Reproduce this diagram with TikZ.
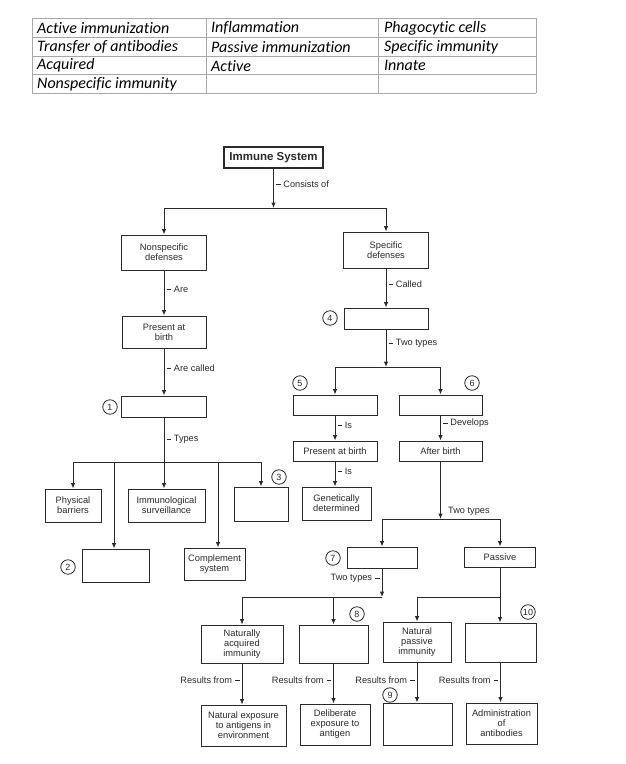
\documentclass[tikz,border=0pt]{standalone}
\usepackage{fontspec}
\setmainfont{Liberation Sans}
\newfontfamily\tabfont[Ligatures=NoCommon]{Carlito}
\usetikzlibrary{arrows.meta,calc}
\definecolor{ink}{HTML}{2A2A2A}
\definecolor{grid}{HTML}{A8A8A8}
\newcommand\tickR[4]{\draw[tickln] (#1+2.5,#2) -- (#1+7,#2) node[lbl,anchor=west,xshift=2.5pt] (#3) {#4};}
\newcommand\tickL[4]{\draw[tickln] (#1-2.5,#2) -- (#1-7,#2) node[lbl,anchor=east,xshift=-2.5pt] (#3) {#4};}
\begin{document}
\begin{tikzpicture}[x=1pt,y=-1pt,
 box/.style={draw=ink, line width=0.9pt, fill=white, inner sep=1pt, align=center, text=ink, font=\fontsize{9.3}{10}\selectfont},
 arr/.style={draw=ink, line width=1pt, -{Latex[length=5.5pt,width=4.5pt]}},
 ln/.style={draw=ink, line width=1pt},
 tickln/.style={draw=ink, line width=0.8pt},
 num/.style={circle, draw=ink, line width=0.8pt, minimum size=14.5pt, inner sep=0pt, font=\fontsize{9}{9}\selectfont, text=ink},
 lbl/.style={font=\fontsize{9.2}{9}\selectfont, text=ink, inner sep=0pt},
 cell/.style={font=\tabfont\itshape\fontsize{16}{17}\selectfont, anchor=west, inner sep=0pt, text=black}
]
\useasboundingbox (0,0) rectangle (625,764);
\fill[white] (0,0) rectangle (625,764);

% ---------- table ----------
\foreach \yy in {18,37,56,74.5,93} \draw[grid, line width=0.8pt] (32,\yy) -- (536,\yy);
\foreach \xx in {32,206,378,536} \draw[grid, line width=0.8pt] (\xx,18) -- (\xx,93);
\node[cell] (t11) at (37,28) {Active immunization};
\node[cell] (t12) at (211,28) {Inflammation};
\node[cell] (t13) at (384,28) {Phagocytic cells};
\node[cell] (t21) at (37,47) {Transfer of antibodies};
\node[cell] (t22) at (211,47) {Passive immunization};
\node[cell] (t23) at (384,47) {Specific immunity};
\node[cell] (t31) at (37,65.7) {Acquired};
\node[cell] (t32) at (211,65.7) {Active};
\node[cell] (t33) at (384,65.7) {Innate};
\node[cell] (t41) at (37,84.3) {Nonspecific immunity};

% ---------- boxes ----------
\node[box, line width=1.7pt, minimum width=99pt, minimum height=21pt, font=\bfseries\fontsize{11.5}{12}\selectfont] (is) at (273.5,157.5) {Immune System};
\node[box, minimum width=85pt, minimum height=35pt] (nd) at (164,252.5) {Nonspecific\\defenses};
\node[box, minimum width=85pt, minimum height=36pt] (sd) at (386,250) {Specific\\defenses};
\node[box, minimum width=84pt, minimum height=32pt] (pab) at (164,332) {Present at\\birth};
\node[box, minimum width=85pt, minimum height=21pt] (b1) at (164,406.5) {};
\node[box, minimum width=56pt, minimum height=33pt] (pb) at (73,505.5) {Physical\\barriers};
\node[box, minimum width=77pt, minimum height=33pt] (ims) at (166.5,505.5) {Immunological\\surveillance};
\node[box, minimum width=54pt, minimum height=34pt] (b3) at (261,504) {};
\node[box, minimum width=67pt, minimum height=33pt] (b2) at (115.5,565.5) {};
\node[box, minimum width=61pt, minimum height=32pt] (cs) at (214.5,564) {Complement\\system};

\node[box, minimum width=84pt, minimum height=21pt] (b4) at (386,318.5) {};
\node[box, minimum width=84pt, minimum height=20pt] (b5) at (335,405) {};
\node[box, minimum width=83pt, minimum height=20pt] (b6) at (440.5,405) {};
\node[box, minimum width=84pt, minimum height=20pt] (pab2) at (335,451) {Present at birth};
\node[box, minimum width=83pt, minimum height=20pt] (ab) at (440.5,451) {After birth};
\node[box, minimum width=69pt, minimum height=33pt] (gd) at (336.5,503.5) {Genetically\\determined};
\node[box, minimum width=70pt, minimum height=21pt] (b7) at (382,557.5) {};
\node[box, minimum width=71pt, minimum height=20pt] (pas) at (500,557) {Passive};
\node[box, minimum width=82pt, minimum height=38pt] (naq) at (242,644) {Naturally\\acquired\\immunity};
\node[box, minimum width=69pt, minimum height=38pt] (b8) at (333.5,644) {};
\node[box, minimum width=68pt, minimum height=40pt] (npi) at (417,642) {Natural\\passive\\immunity};
\node[box, minimum width=71pt, minimum height=39pt] (b10) at (500.5,642.5) {};
\node[box, minimum width=85pt, minimum height=41pt] (ne) at (243.5,725.5) {Natural exposure\\to antigens in\\environment};
\node[box, minimum width=70pt, minimum height=41pt] (de) at (335,724.5) {Deliberate\\exposure to\\antigen};
\node[box, minimum width=69pt, minimum height=42pt] (b9) at (417.5,724) {};
\node[box, minimum width=71pt, minimum height=41pt] (adm) at (501.5,723.5) {Administration\\of\\antibodies};

% ---------- numbers ----------
\node[num] (c1) at (110,407) {1};
\node[num] (c2) at (68,567) {2};
\node[num] (c3) at (279,477) {3};
\node[num] (c4) at (330,318) {4};
\node[num] (c5) at (300,383) {5};
\node[num] (c6) at (472,383) {6};
\node[num] (c7) at (333,558) {7};
\node[num] (c8) at (357,614) {8};
\node[num] (c9) at (390,695) {9};
\node[num] (c10) at (528,612) {10};

% ---------- connectors ----------
\coordinate (j0) at (273.5,208);
\draw[arr] (is.south) -- (j0);
\draw[arr] (j0) -| (nd.north);
\draw[arr] (j0) -| (sd.north);
\draw[arr] (nd.south) -- (pab.north);
\draw[arr] (pab.south) -- (b1.north);
\coordinate (j1) at (164,462);
\draw[ln] (b1.south) -- (j1);
\draw[arr] (j1) -- (j1 |- ims.north);
\draw[arr] (j1) -| (pb.north);
\draw[arr] (j1) -| (b3.north);
\coordinate (t2) at (114,462);
\draw[arr] (t2) -- (t2 |- b2.north);
\coordinate (tc) at (218,462);
\draw[arr] (tc) -- (tc |- cs.north);

\draw[arr] (sd.south) -- (b4.north);
\coordinate (j4) at (386,367);
\draw[arr] (b4.south) -- (j4);
\draw[arr] (j4) -| (b5.north);
\draw[arr] (j4) -| (b6.north);
\draw[arr] (b5.south) -- (pab2.north);
\draw[arr] (b6.south) -- (ab.north);
\draw[arr] (pab2.south) -- (pab2.south |- gd.north);
\coordinate (jab) at (440.5,519);
\draw[arr] (ab.south) -- (jab);
\draw[arr] (jab) -| (b7.north);
\draw[arr] (jab) -| (pas.north);
\coordinate (j7) at (382,597);
\draw[arr] (b7.south) -- (j7);
\draw[arr] (j7) -| (naq.north);
\draw[arr] (j7) -| (b8.north);
\coordinate (jp) at (500,597);
\draw[arr] (pas.south) -- (pas.south |- b10.north);
\draw[arr] (jp) -| (npi.north);
\draw[arr] (naq.south) -- (naq.south |- ne.north);
\draw[arr] (b8.south) -- (b8.south |- de.north);
\draw[arr] (npi.south) -- (npi.south |- b9.north);
\draw[arr] (b10.south) -- (b10.south |- adm.north);

% ---------- labels ----------
\tickR{273.5}{184}{l0}{Consists of}
\tickR{164}{289}{l1}{Are}
\tickR{164}{368}{l2}{Are called}
\tickR{164}{439}{l3}{Types}
\tickR{386}{284}{l4}{Called}
\tickR{386}{343}{l5}{Two types}
\tickR{335}{425}{l6}{Is}
\tickR{440.5}{423}{l7}{Develops}
\tickR{335}{471}{l8}{Is}
\node[lbl, anchor=west] (l9) at (448,511) {Two types};
\tickL{382}{578}{l10}{Two types}
\tickL{242}{680}{l11}{Results from}
\tickL{333.5}{680}{l12}{Results from}
\tickL{417}{680}{l13}{Results from}
\tickL{500.5}{680}{l14}{Results from}
\end{tikzpicture}
\end{document}
